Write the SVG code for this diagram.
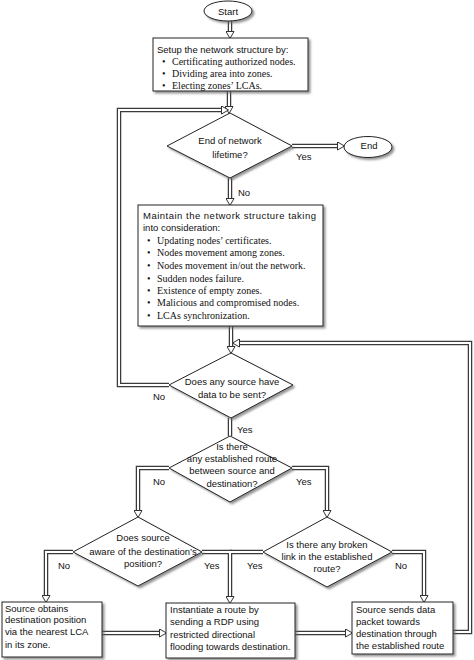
<svg xmlns="http://www.w3.org/2000/svg" width="474" height="660" viewBox="0 0 474 660">
<defs>
<style>
.bg{fill:#fff}
.node{fill:#fff;stroke:#222;stroke-width:1;filter:url(#sh)}
.out{fill:none;stroke:#3a3a3a;stroke-width:4.5;stroke-linejoin:miter}
.in{fill:none;stroke:#fff;stroke-width:2;stroke-linejoin:miter}
.in.h{marker-end:url(#ah)}
.s{font-family:"Liberation Sans",Arial,sans-serif;font-size:9.5px;fill:#111}
.m{text-anchor:middle}
.t{font-family:"Liberation Serif","Times New Roman",serif;font-size:10px;fill:#111}
</style>
<filter id="sh" x="-10%" y="-10%" width="130%" height="135%">
<feDropShadow dx="2" dy="2" stdDeviation="1" flood-color="#666" flood-opacity="0.7"/>
</filter>
<marker id="ah" markerUnits="userSpaceOnUse" viewBox="0 0 8 9" markerWidth="8" markerHeight="9" refX="0" refY="4.5" orient="auto">
<path d="M0.5,0.5 L7.5,4.5 L0.5,8.5 Z" fill="#fff" stroke="#333" stroke-width="1"/>
</marker>
</defs>
<rect class="bg" x="0" y="0" width="474" height="660"/>
<g id="connectors">
<g id="conn-outer">
<path class="out" d="M230 21 V31"/>
<path class="out" d="M229 91 V106"/>
<path class="out" d="M169 385 H119 V110 H221"/>
<path class="out" d="M292 146 H337"/>
<path class="out" d="M230 178 V198"/>
<path class="out" d="M231 326 V346"/>
<path class="out" d="M453 632 H470 V343 H240"/>
<path class="out" d="M230 418 V436"/>
<path class="out" d="M169 468 H138 V510"/>
<path class="out" d="M292 468 H327 V510"/>
<path class="out" d="M73 552 H46 V595"/>
<path class="out" d="M202 552 H230 V596"/>
<path class="out" d="M263 552 H230"/>
<path class="out" d="M392 552 H424 V595"/>
<path class="out" d="M102 633 H159"/>
<path class="out" d="M295 633 H345"/>
</g>
<g id="conn-inner">
<path class="in h" d="M230 21 V31"/>
<path class="in h" d="M229 91 V106"/>
<path class="in h" d="M169 385 H119 V110 H221"/>
<path class="in h" d="M292 146 H337"/>
<path class="in h" d="M230 178 V198"/>
<path class="in h" d="M231 326 V346"/>
<path class="in h" d="M453 632 H470 V343 H240"/>
<path class="in" d="M230 418 V436"/>
<path class="in h" d="M169 468 H138 V510"/>
<path class="in h" d="M292 468 H327 V510"/>
<path class="in h" d="M73 552 H46 V595"/>
<path class="in h" d="M202 552 H230 V596"/>
<path class="in" d="M263 552 H230"/>
<path class="in h" d="M392 552 H424 V595"/>
<path class="in h" d="M102 633 H159"/>
<path class="in h" d="M295 633 H345"/>
</g>
<g id="conn-labels">
<text class="s" x="296" y="160">Yes</text>
<text class="s" x="238" y="196">No</text>
<text class="s" x="153" y="400">No</text>
<text class="s" x="237" y="433">Yes</text>
<text class="s" x="153" y="485">No</text>
<text class="s" x="296" y="485">Yes</text>
<text class="s" x="58" y="569">No</text>
<text class="s" x="204" y="569">Yes</text>
<text class="s" x="247" y="569">Yes</text>
<text class="s" x="395" y="569">No</text>
</g>
</g>
<g id="start">
<ellipse class="node" cx="228" cy="11" rx="24" ry="10"/>
<text class="s m" x="228" y="14.5">Start</text>
</g>
<g id="setup">
<rect class="node" x="153" y="38" width="155" height="53"/>
<text class="s" x="157" y="53">Setup the network structure by:</text>
<text class="t" x="162" y="65">•</text><text class="t" x="172" y="65">Certificating authorized nodes.</text>
<text class="t" x="162" y="77">•</text><text class="t" x="172" y="77">Dividing area into zones.</text>
<text class="t" x="162" y="89">•</text><text class="t" x="172" y="89">Electing zones’ LCAs.</text>
</g>
<g id="end-check">
<polygon class="node" points="230,113 292,146 230,178 167,146"/>
<text class="s m" x="230" y="144">End of network</text>
<text class="s m" x="230" y="158">lifetime?</text>
</g>
<g id="end">
<ellipse class="node" cx="368" cy="147" rx="24" ry="10.5"/>
<text class="s m" x="369" y="149">End</text>
</g>
<g id="maintain">
<rect class="node" x="138" y="205" width="185" height="121"/>
<text class="s" x="143" y="219" textLength="173" lengthAdjust="spacing">Maintain the network structure taking</text>
<text class="s" x="143" y="231">into consideration:</text>
<text class="t" x="147" y="244">•</text><text class="t" x="157" y="244">Updating nodes’ certificates.</text>
<text class="t" x="147" y="256">•</text><text class="t" x="157" y="256">Nodes movement among zones.</text>
<text class="t" x="147" y="268.5">•</text><text class="t" x="157" y="268.5">Nodes movement in/out the network.</text>
<text class="t" x="147" y="281.5">•</text><text class="t" x="157" y="281.5">Sudden nodes failure.</text>
<text class="t" x="147" y="293.5">•</text><text class="t" x="157" y="293.5">Existence of empty zones.</text>
<text class="t" x="147" y="306">•</text><text class="t" x="157" y="306">Malicious and compromised nodes.</text>
<text class="t" x="147" y="319">•</text><text class="t" x="157" y="319">LCAs synchronization.</text>
</g>
<g id="data-check">
<polygon class="node" points="231,353 293,385 231,418 169,385"/>
<text class="s m" x="232" y="385">Does any source have</text>
<text class="s m" x="232" y="398">data to be sent?</text>
</g>
<g id="route-check">
<polygon class="node" points="230,436 292,468 230,502 169,468"/>
<text class="s m" x="232" y="450">Is there</text>
<text class="s m" x="232" y="462">any established route</text>
<text class="s m" x="232" y="474">between source and</text>
<text class="s m" x="232" y="487">destination?</text>
</g>
<g id="aware-check">
<polygon class="node" points="138,517 202,552 138,586 73,552"/>
<text class="s m" x="143" y="541">Does source</text>
<text class="s m" x="143" y="555">aware of the destination’s</text>
<text class="s m" x="143" y="567">position?</text>
</g>
<g id="broken-check">
<polygon class="node" points="327,517 392,552 327,587 263,552"/>
<text class="s m" x="327" y="548">Is there any broken</text>
<text class="s m" x="327" y="560">link in the established</text>
<text class="s m" x="327" y="572">route?</text>
</g>
<g id="obtain">
<rect class="node" x="2" y="602" width="100" height="55"/>
<text class="s" x="5" y="611.5">Source obtains</text>
<text class="s" x="5" y="623">destination position</text>
<text class="s" x="5" y="635">via the nearest LCA</text>
<text class="s" x="5" y="647.5">in its zone.</text>
</g>
<g id="instantiate">
<rect class="node" x="166" y="603" width="129" height="55"/>
<text class="s" x="170" y="612.5">Instantiate a route by</text>
<text class="s" x="170" y="625">sending a RDP using</text>
<text class="s" x="170" y="638">restricted directional</text>
<text class="s" x="170" y="650">flooding towards destination.</text>
</g>
<g id="send">
<rect class="node" x="352" y="602" width="101" height="52"/>
<text class="s" x="356" y="612.5">Source sends data</text>
<text class="s" x="356" y="625">packet towards</text>
<text class="s" x="356" y="637">destination through</text>
<text class="s" x="356" y="649">the established route</text>
</g>
</svg>
